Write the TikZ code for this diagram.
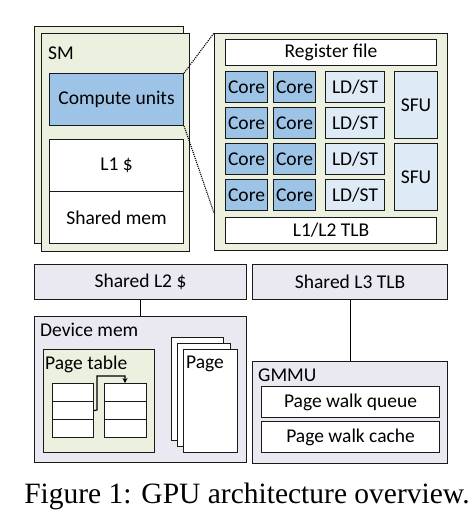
\documentclass[tikz,border=0pt]{standalone}
\usepackage{fontspec}
\setmainfont{Liberation Serif}
\setsansfont{Carlito}
\usetikzlibrary{arrows.meta,positioning}

\definecolor{smgreen}{HTML}{EBF0DF}
\definecolor{coreblue}{HTML}{9DC3E6}
\definecolor{unitblue}{HTML}{DEEBF7}
\definecolor{memgray}{HTML}{EAE8F1}

\tikzset{
  box/.style={draw=black!90, line width=1.1pt, inner sep=0pt, anchor=north west,
    font=\sffamily\fontsize{19.5}{21}\selectfont},
  lbl/.style={inner sep=0pt, anchor=west, font=\sffamily\fontsize{19.5}{21}\selectfont},
  cell/.style={draw=black!90, line width=1.1pt, fill=white, anchor=north west,
    minimum width=41pt, minimum height=18pt, inner sep=0pt},
}

\begin{document}
\begin{tikzpicture}[x=1pt,y=-1pt]
\useasboundingbox (0,0) rectangle (474,517);

% SM (two stacked)
\node[box, fill=smgreen, minimum width=149pt, minimum height=217pt] (smback) at (34,26) {};
\node[box, fill=smgreen, minimum width=148pt, minimum height=218pt] (sm) at (41,33) {};
\node[lbl] (smlbl) at (48,53) {SM};
\node[box, fill=coreblue, minimum width=134pt, minimum height=52pt] (compute) at (49,73) {Compute units};
\node[box, fill=white, minimum width=134pt, minimum height=52pt] (lone) at (49,139) {L1 \$};
\node[box, fill=white, minimum width=134pt, minimum height=52pt] (shmem) at (49,191) {Shared mem};

% SM detail
\node[box, fill=smgreen, minimum width=233pt, minimum height=217pt] (smdetail) at (214,33) {};
\node[box, fill=white, minimum width=211pt, minimum height=26pt] (regfile) at (225,39) {Register file};
\foreach \r/\y in {1/71,2/107,3/143,4/179} {
  \node[box, fill=coreblue, minimum width=42pt, minimum height=31pt] (corea\r) at (225,\y) {Core};
  \node[box, fill=coreblue, minimum width=42pt, minimum height=31pt] (coreb\r) at (273,\y) {Core};
  \node[box, fill=unitblue, minimum width=59pt, minimum height=31pt] (ldst\r) at (325,\y) {LD/ST};
}
\node[box, fill=unitblue, minimum width=43pt, minimum height=67pt] (sfua) at (394,71) {SFU};
\node[box, fill=unitblue, minimum width=43pt, minimum height=67pt] (sfub) at (394,143) {SFU};
\node[box, fill=white, minimum width=211pt, minimum height=26pt] (tlb) at (225,217) {L1/L2 TLB};

% zoom lines
\coordinate (zoomlow) at (214,213);
\draw[line width=1.1pt, densely dotted] (compute.north east) -- (smdetail.north west);
\draw[line width=1.1pt, densely dotted] (compute.south east) -- (zoomlow);

% shared levels
\node[box, fill=memgray, minimum width=212pt, minimum height=35pt] (ltwo) at (34,264) {Shared L2 \$};
\node[box, fill=memgray, minimum width=195pt, minimum height=35pt] (lthree) at (252,264) {Shared L3 TLB};

% device memory
\node[box, fill=memgray, minimum width=212pt, minimum height=146pt] (devmem) at (34,316) {};
\node[lbl] (devlbl) at (40,330) {Device mem};
\node[box, fill=smgreen, minimum width=111pt, minimum height=103pt] (ptable) at (43,349) {};
\node[lbl] (ptlbl) at (45,364) {Page table};
\foreach \r/\y in {1/383,2/401,3/419} {
  \node[cell] (pta\r) at (52,\y) {};
  \node[cell, minimum width=42pt] (ptb\r) at (104,\y) {};
}
\coordinate (bendA) at (97,410);
\coordinate (bendB) at (97,376);
\coordinate (bendC) at (125,376);
\draw[line width=1.1pt, -{Stealth[length=5pt,width=5pt]}] (pta2.east) -- (bendA) -- (bendB) -- (bendC) -- (ptb1.north -| bendC);
\node[box, fill=white, minimum width=52pt, minimum height=103pt] (pagec) at (171,337) {};
\node[box, fill=white, minimum width=53pt, minimum height=103pt] (pageb) at (177,343) {};
\node[box, fill=white, minimum width=54pt, minimum height=103pt] (pagea) at (183,349) {};
\node[lbl] (pagelbl) at (186,364) {Page};

% GMMU
\node[box, fill=memgray, minimum width=195pt, minimum height=102pt] (gmmu) at (252,361) {};
\node[lbl] (gmmulbl) at (258,375) {GMMU};
\node[box, fill=white, minimum width=178pt, minimum height=31pt] (pwq) at (261,386) {Page walk queue};
\node[box, fill=white, minimum width=178pt, minimum height=31pt] (pwc) at (261,421) {Page walk cache};

% links
\draw[line width=1.1pt] (ltwo.south) -- (devmem.north);
\draw[line width=1.1pt] (lthree.south) -- (gmmu.north);

% caption
\node[anchor=base, inner sep=0pt, font=\fontsize{29.5}{32}\selectfont] (caption) at (247,503) {Figure 1: GPU architecture overview.};
\end{tikzpicture}
\end{document}
